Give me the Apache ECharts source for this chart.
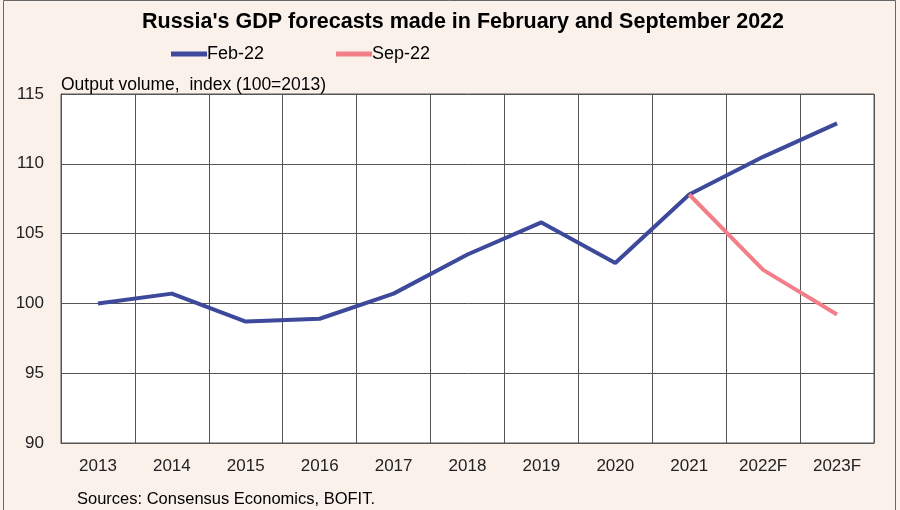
<!DOCTYPE html>
<html>
<head>
<meta charset="utf-8">
<script src="https://cdn.jsdelivr.net/npm/echarts@6/dist/echarts.min.js"></script>
<style>
  html, body { margin: 0; padding: 0; background: #fbf1eb; }
  #chart { width: 900px; height: 510px; }
</style>
</head>
<body>
<div id="chart"></div>
<script>
// data
const categories = ['2013', '2014', '2015', '2016', '2017', '2018', '2019', '2020', '2021', '2022F', '2023F']
const feb22 = [100, 100.7, 98.7, 98.9, 100.7, 103.5, 105.8, 102.9, 107.8, 110.5, 112.9]
const sep22 = [null, null, null, null, null, null, null, null, 107.8, 102.4, 99.2]
const yMin = 90
const yMax = 115
const yStep = 5

const chart = echarts.init(document.getElementById('chart'))
const font = 'Liberation Sans, Arial, sans-serif'

chart.setOption({
  backgroundColor: '#fbf1eb',
  animation: false,
  textStyle: { fontFamily: font },
  graphic: [
    {
      type: 'rect',
      silent: true,
      shape: { x: 3.5, y: 0.5, width: 892, height: 512 },
      style: { fill: 'none', stroke: '#666', lineWidth: 1 }
    }
  ],
  title: [
    {
      text: "Russia's GDP forecasts made in February and September 2022",
      left: 137,
      top: 6,
      textStyle: { fontSize: 21.5, fontWeight: 'bold', color: '#000', fontFamily: font }
    },
    {
      text: 'Sources: Consensus Economics, BOFIT.',
      left: 72,
      top: 486,
      textStyle: { fontSize: 16.5, fontWeight: 'normal', color: '#000', fontFamily: font }
    }
  ],
  legend: {
    top: 40,
    left: 166,
    itemGap: 72,
    itemWidth: 36,
    itemHeight: 5,
    icon: 'rect',
    textStyle: { fontSize: 18, color: '#000', padding: [0, 0, 0, -5] },
    data: ['Feb-22', 'Sep-22']
  },
  grid: {
    left: 61,
    right: 26,
    top: 94,
    bottom: 67,
    outerBoundsMode: 'none',
    show: true,
    backgroundColor: '#fff',
    borderColor: '#555',
    borderWidth: 1
  },
  xAxis: {
    type: 'category',
    data: categories,
    boundaryGap: true,
    axisLine: { lineStyle: { color: '#555' } },
    axisTick: { show: false },
    axisLabel: { fontSize: 17, color: '#222', margin: 15 },
    splitLine: { show: true, lineStyle: { color: '#555', width: 1 } }
  },
  yAxis: {
    type: 'value',
    min: yMin,
    max: yMax,
    interval: yStep,
    name: 'Output volume,  index (100=2013)',
    nameLocation: 'end',
    nameGap: 0,
    nameTextStyle: { fontSize: 17.5, color: '#000', align: 'left' },
    axisLine: { show: true, lineStyle: { color: '#555' } },
    axisTick: { show: false },
    axisLabel: { fontSize: 17, color: '#222', margin: 17 },
    splitLine: { show: true, lineStyle: { color: '#555', width: 1 } }
  },
  series: [
    {
      name: 'Feb-22',
      type: 'line',
      data: feb22,
      symbol: 'none',
      lineStyle: { color: '#3d4a9c', width: 4 },
      itemStyle: { color: '#3d4a9c' },
      z: 3
    },
    {
      name: 'Sep-22',
      type: 'line',
      data: sep22,
      symbol: 'none',
      lineStyle: { color: '#f27f88', width: 4 },
      itemStyle: { color: '#f27f88' },
      z: 4
    }
  ]
})
</script>
</body>
</html>
